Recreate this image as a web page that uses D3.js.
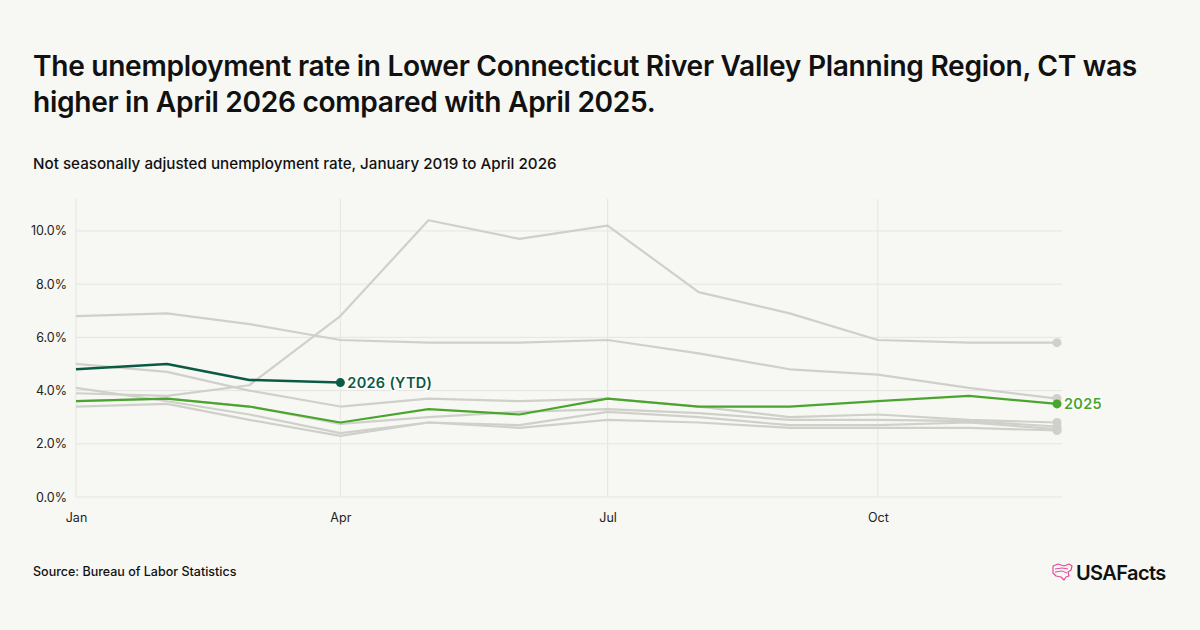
<!DOCTYPE html>
<html><head><meta charset="utf-8">
<script src="https://cdn.jsdelivr.net/npm/d3@7"></script>
<style>
html,body{margin:0;padding:0;background:#f7f7f3;}
svg{display:block;font-family:Inter,"Noto Sans",sans-serif;}
</style></head>
<body><svg id="c" width="1200" height="630"></svg>
<script>
const months = ["Jan","Feb","Mar","Apr","May","Jun","Jul","Aug","Sep","Oct","Nov","Dec"];
const tickMonths = ["Jan","Apr","Jul","Oct"];
const yTicks = [0,2,4,6,8,10];
const years = ["2019","2020","2021","2022","2023","2024","2025","2026"];
const v2019 = [3.4,3.5,2.9,2.3,2.8,2.6,2.9,2.8,2.6,2.6,2.6,2.5];
const v2020 = [3.9,3.8,4.2,6.8,10.4,9.7,10.2,7.7,6.9,5.9,5.8,5.8];
const v2021 = [6.8,6.9,6.5,5.9,5.8,5.8,5.9,5.4,4.8,4.6,4.1,3.7];
const v2022 = [5.0,4.7,4.0,3.4,3.7,3.6,3.7,3.4,3.0,3.1,2.9,2.8];
const v2023 = [3.6,3.7,3.4,2.75,3.0,3.2,3.3,3.15,2.9,2.9,2.85,2.65];
const v2024 = [4.1,3.6,3.1,2.4,2.8,2.7,3.2,3.0,2.7,2.7,2.8,2.55];
const v2025 = [3.6,3.7,3.4,2.8,3.3,3.1,3.7,3.4,3.4,3.6,3.8,3.5];
const v2026 = [4.8,5.0,4.4,4.3];
const title = ["The unemployment rate in Lower Connecticut River Valley Planning Region, CT was","higher in April 2026 compared with April 2025."];
const subtitle = "Not seasonally adjusted unemployment rate, January 2019 to April 2026";
const source = "Source: Bureau of Labor Statistics";

const svg = d3.select("#c");
const W=1200,H=630;
svg.append("rect").attr("width",W).attr("height",H).attr("fill","#f7f7f3");

function fit(sel, target){
  const n = sel.node();
  let fs = parseFloat(sel.attr("font-size"));
  for(let i=0;i<3;i++){ const w=n.getComputedTextLength(); fs = fs*target/w; sel.attr("font-size",fs); }
}

const t1 = svg.append("text").attr("x",33).attr("y",76).attr("font-size",28).attr("font-weight",600).attr("fill","#111").attr("letter-spacing","-0.3").text(title[0]);
fit(t1,1104);
const fsT = t1.attr("font-size");
svg.append("text").attr("x",33).attr("y",112).attr("font-size",fsT).attr("font-weight",600).attr("fill","#111").attr("letter-spacing","-0.3").text(title[1]);
const st = svg.append("text").attr("x",33).attr("y",169).attr("font-size",15).attr("font-weight",500).attr("fill","#111").text(subtitle);
fit(st,524);

const mDate = m => new Date(Date.UTC(2025, months.indexOf(m), 1));
const x = d3.scaleUtc().domain([mDate("Jan"), mDate("Dec")]).range([76,1057]);
const xm = m => x(mDate(m));
const y = d3.scaleLinear().domain([0,11.2]).range([497,199]);

const g = svg.append("g");
// gridlines
g.selectAll(".hg").data(yTicks).join("line").attr("x1",76).attr("x2",1062)
  .attr("y1",d=>y(d)).attr("y2",d=>y(d)).attr("stroke","#e5e5e1").attr("stroke-width",1);
g.selectAll(".vg").data(tickMonths).join("line").attr("x1",d=>xm(d)).attr("x2",d=>xm(d))
  .attr("y1",199).attr("y2",497).attr("stroke","#e5e5e1").attr("stroke-width",1);

// axes
const yAxis = d3.axisLeft(y).tickValues(yTicks).tickFormat(d=>d.toFixed(1)+"%").tickSize(0).tickPadding(9);
const ya = svg.append("g").attr("transform","translate(76,0)").call(yAxis);
ya.select(".domain").remove();
ya.selectAll("text").attr("font-size",12.5).attr("fill","#222").attr("font-family","Inter,sans-serif");
const xAxis = d3.axisBottom(x).tickValues(tickMonths.map(mDate)).tickFormat(d=>months[d.getUTCMonth()]).tickSize(0).tickPadding(16);
const xa = svg.append("g").attr("transform","translate(0,497)").call(xAxis);
xa.select(".domain").remove();
xa.selectAll("text").attr("font-size",12.5).attr("fill","#222").attr("font-family","Inter,sans-serif");

const line = d3.line().x((d,i)=>xm(months[i])).y(d=>y(d));
const grays = [v2019,v2020,v2021,v2022,v2023,v2024];
const grayC = "#d0d0cb";
grays.forEach(s=>{
  g.append("path").attr("d",line(s)).attr("fill","none").attr("stroke",grayC).attr("stroke-width",2.2).attr("stroke-linejoin","round");
});
grays.forEach(s=>{
  g.append("circle").attr("cx",xm(months[s.length-1])).attr("cy",y(s[s.length-1])).attr("r",4.5).attr("fill",grayC);
});
const green="#4aa52e", dark="#0b5a44";
g.append("path").attr("d",line(v2025)).attr("fill","none").attr("stroke",green).attr("stroke-width",2.2).attr("stroke-linejoin","round");
g.append("circle").attr("cx",xm(months[11])).attr("cy",y(v2025[11])).attr("r",4.5).attr("fill",green);
g.append("path").attr("d",line(v2026)).attr("fill","none").attr("stroke",dark).attr("stroke-width",2.5).attr("stroke-linejoin","round");
g.append("circle").attr("cx",xm(months[3])).attr("cy",y(v2026[3])).attr("r",4.5).attr("fill",dark);

function label(txt,xx,yy,col){
  g.append("text").attr("x",xx).attr("y",yy).attr("dy","0.35em").attr("font-size",14.5).attr("font-weight",600)
   .attr("fill",col).attr("stroke","#fff").attr("stroke-width",3).attr("paint-order","stroke").attr("letter-spacing","0.3").text(txt);
}
label("2026 (YTD)", xm(months[3])+7, y(v2026[3]), dark);
label("2025", xm(months[11])+7, y(v2025[11])+0.5, green);

// source
svg.append("text").attr("x",33).attr("y",576).attr("font-size",12.5).attr("font-weight",500).attr("fill","#111").text(source);

// logo
const lg = svg.append("g").attr("transform","translate(1052,563)");
lg.append("path").attr("d","M1,3 L6,1 L12,3 L17,1 L20,3 L19,7 L16,9 L17,13 L14,14 L12,17 L9,14 L4,13 L1,10 Z")
  .attr("fill","none").attr("stroke","#e8489a").attr("stroke-width",1.2).attr("stroke-linejoin","round");
lg.append("path").attr("d","M3,6 L10,5 L16,6 M3,9 L10,8 L15,10").attr("fill","none").attr("stroke","#e8489a").attr("stroke-width",1);
svg.append("text").attr("x",1076).attr("y",580).attr("font-size",20).attr("font-weight",600).attr("letter-spacing","-0.6").attr("fill","#111").text("USAFacts");
</script></body></html>
